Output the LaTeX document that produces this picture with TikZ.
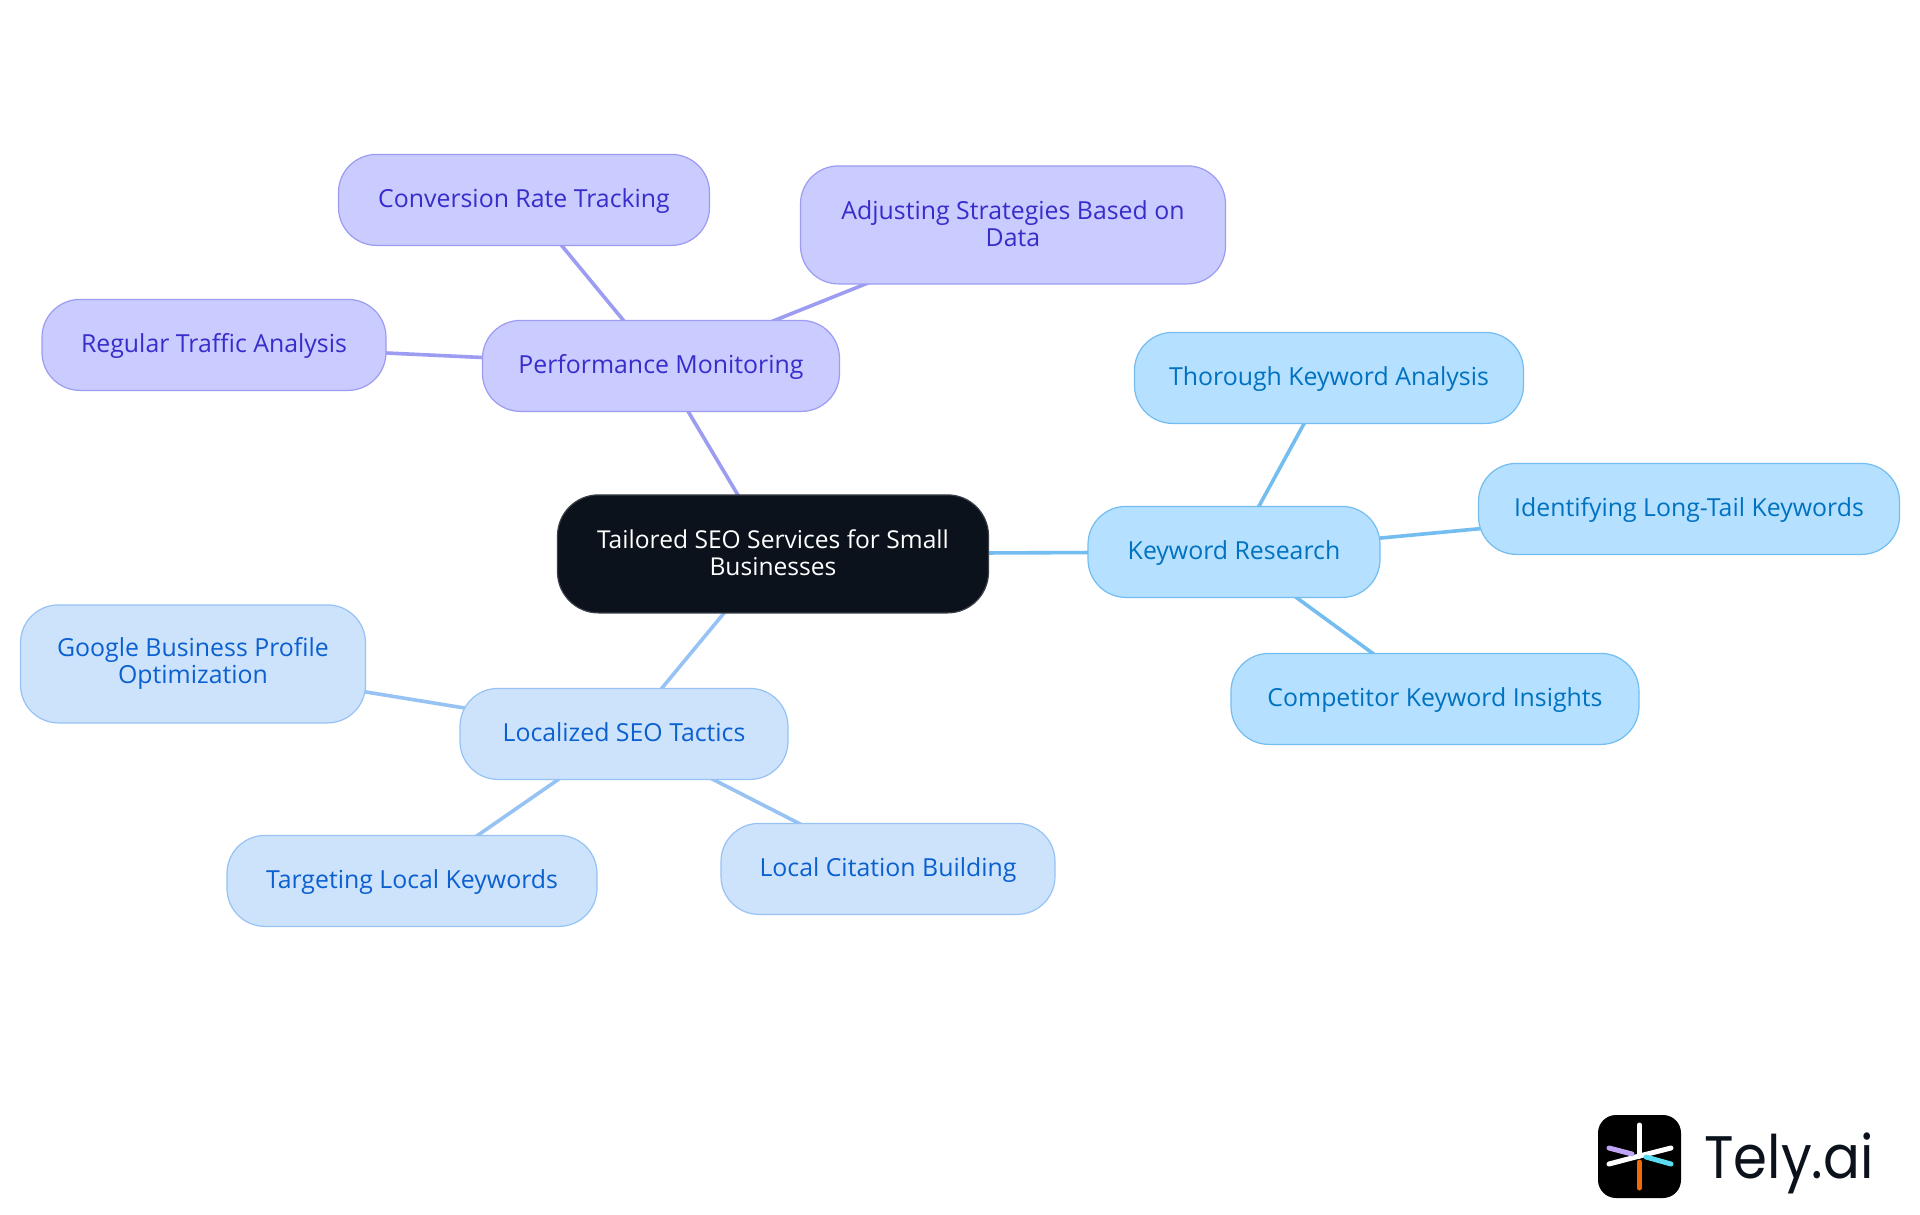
\documentclass[tikz,border=0pt]{standalone}
\usepackage{fontspec}
\setmainfont{Open Sans}
\newfontfamily\logofont{Poppins}
\pgfdeclarelayer{paper}
\pgfdeclarelayer{links}
\pgfsetlayers{paper,links,main}
\definecolor{rootfill}{HTML}{0B121B}
\definecolor{rootline}{HTML}{3A3F47}
\definecolor{pfill}{HTML}{CACBFF}
\definecolor{pline}{HTML}{9C9CF2}
\definecolor{ptext}{HTML}{3A2BCB}
\definecolor{kfill}{HTML}{B5E0FF}
\definecolor{kline}{HTML}{73BDF0}
\definecolor{ktext}{HTML}{0072C0}
\definecolor{lfill}{HTML}{CDE3FC}
\definecolor{lline}{HTML}{96C3F4}
\definecolor{ltext}{HTML}{0B60CF}
\definecolor{armp}{RGB}{190,165,245}
\definecolor{armc}{RGB}{90,220,240}
\definecolor{armo}{RGB}{240,105,10}
\tikzset{
 base/.style={draw,rectangle,rounded corners=38pt,line width=1.2pt,align=center,inner sep=0pt,yshift=-0.9pt,font=\fontsize{24.85}{27}\selectfont},
 oneline/.style={text height=22pt,text depth=6pt},
 rootnode/.style={base,fill=rootfill,draw=rootline,text=white,font=\fontsize{24.6}{27}\selectfont,rounded corners=41pt},
 pnode/.style={base,fill=pfill,draw=pline,text=ptext},
 knode/.style={base,fill=kfill,draw=kline,text=ktext},
 lnode/.style={base,fill=lfill,draw=lline,text=ltext},
 plink/.style={draw=pline,line width=3.6pt},
 klink/.style={draw=kline,line width=3.6pt},
 llink/.style={draw=lline,line width=3.6pt},
 arm/.style={line width=5pt,line cap=round},
}
\begin{document}
\begin{tikzpicture}[x=1pt,y=-1pt]
\useasboundingbox (0,0) rectangle (1920,1215);
\begin{pgfonlayer}{paper}
\fill[white] (0,0) rectangle (1920,1215);
\end{pgfonlayer}
\node[rootnode,minimum width=431pt,minimum height=118pt] (root) at (773,553) {Tailored SEO Services for Small\\Businesses\rule[-2.5pt]{0pt}{2.5pt}};
\node[pnode,oneline,minimum width=357pt,minimum height=91pt] (perf) at (661,365) {Performance Monitoring};
\node[pnode,oneline,minimum width=371pt,minimum height=91pt] (conv) at (524,199) {Conversion Rate Tracking};
\node[pnode,minimum width=425pt,minimum height=118pt] (adj) at (1013,224) {Adjusting Strategies Based on\\Data\rule[-2.5pt]{0pt}{2.5pt}};
\node[pnode,oneline,minimum width=344pt,minimum height=91pt] (reg) at (214,344) {Regular Traffic Analysis};
\node[knode,oneline,minimum width=292pt,minimum height=91pt] (kw) at (1234,551) {Keyword Research};
\node[knode,oneline,minimum width=389pt,minimum height=91pt] (thor) at (1329,377) {Thorough Keyword Analysis};
\node[knode,oneline,minimum width=421pt,minimum height=91pt] (long) at (1689,508) {Identifying Long-Tail Keywords};
\node[knode,oneline,minimum width=408pt,minimum height=91pt] (comp) at (1435,698) {Competitor Keyword Insights};
\node[lnode,oneline,minimum width=328pt,minimum height=91pt] (loc) at (624,733) {Localized SEO Tactics};
\node[lnode,minimum width=345pt,minimum height=118pt] (goog) at (193,663) {Google Business Profile\\Optimization};
\node[lnode,oneline,minimum width=370pt,minimum height=91pt] (targ) at (412,880) {Targeting Local Keywords};
\node[lnode,oneline,minimum width=334pt,minimum height=91pt] (cit) at (888,868) {Local Citation Building};
\begin{pgfonlayer}{links}
\draw[plink] (root.center) -- (perf.center);
\draw[plink] (perf.center) -- (conv.center);
\draw[plink] (perf.center) -- (adj.center);
\draw[plink] (perf.center) -- (reg.center);
\draw[klink] (root.center) -- (kw.center);
\draw[klink] (kw.center) -- (thor.center);
\draw[klink] (kw.center) -- (long.center);
\draw[klink] (kw.center) -- (comp.center);
\draw[llink] (root.center) -- (loc.center);
\draw[llink] (loc.center) -- (goog.center);
\draw[llink] (loc.center) -- (targ.center);
\draw[llink] (loc.center) -- (cit.center);
\end{pgfonlayer}
% logo
\fill[black,rounded corners=18pt] (1598,1115) rectangle (1681,1198);
\coordinate (c) at (1639.5,1156);
\draw[arm,white] (c) -- (1639.5,1125);
\draw[arm,white] (c) -- (1671,1148);
\draw[arm,white] (c) -- (1609,1164);
\draw[arm,armp] (1609,1148) -- (1632,1154);
\draw[arm,armc] (1671,1164) -- (1646,1157);
\draw[arm,armo] (1639.5,1162) -- (1639.5,1188);
\node[anchor=base west,inner sep=0pt,text=rootfill,font=\logofont\fontsize{60}{60}\selectfont,xscale=0.91,transform shape] (logo) at (1704,1178) {Tely.ai};
\end{tikzpicture}
\end{document}
